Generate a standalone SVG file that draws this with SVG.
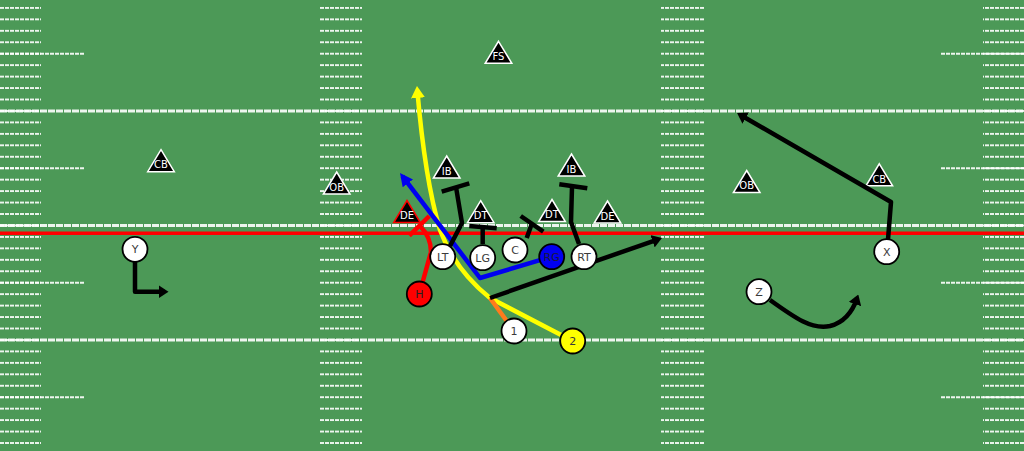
<svg xmlns="http://www.w3.org/2000/svg" width="1024" height="451" viewBox="0 0 1024 451">
<defs>
<style>
.hash{stroke:#fff;stroke-width:2;stroke-dasharray:4 1;opacity:.9;fill:none}
.yard{stroke:#fff;stroke-width:3;stroke-dasharray:7 1;opacity:.9;fill:none}
.tri{fill:#000;stroke:#fff;stroke-width:1.5}
.dt{font-family:"DejaVu Sans",sans-serif;font-size:10px;fill:#fff;text-anchor:middle}
.pc{fill:#fff;stroke:#000;stroke-width:1.8}
.ot{font-family:"DejaVu Sans",sans-serif;font-size:11px;fill:#3a3a3a;text-anchor:middle}
.r{fill:none;stroke-width:4.5;stroke-linejoin:round}
</style>
<pattern id="hp" patternUnits="userSpaceOnUse" x="0" y="6.95" width="1024" height="11.45">
<line x1="0" y1="1" x2="1024" y2="1" class="hash"/>
</pattern>
<path id="tri" d="M0,0 L13.3,22 L-13.3,22 Z"/>
<marker id="ak" viewBox="0 0 10 13" refX="6" refY="6.5" markerWidth="10" markerHeight="13" markerUnits="userSpaceOnUse" orient="auto"><path d="M0,0 L10,6.5 L0,13 Z" fill="#000"/></marker>
<marker id="ay" viewBox="0 0 12 14" refX="8" refY="7" markerWidth="12" markerHeight="14" markerUnits="userSpaceOnUse" orient="auto"><path d="M0,0 L12,7 L0,14 Z" fill="#ffff00"/></marker>
<marker id="ab" viewBox="0 0 13 13" refX="9" refY="6.5" markerWidth="13" markerHeight="13" markerUnits="userSpaceOnUse" orient="auto"><path d="M0,0 L13,6.5 L0,13 Z" fill="#0000f0"/></marker>
</defs>

<g id="field">
<rect x="0" y="0" width="1024" height="451" fill="#4c9957"/>
<rect x="0" y="0" width="41" height="451" fill="url(#hp)"/>
<rect x="320" y="0" width="42" height="451" fill="url(#hp)"/>
<rect x="661" y="0" width="43" height="451" fill="url(#hp)"/>
<rect x="983" y="0" width="41" height="451" fill="url(#hp)"/>
<path class="hash" d="M0,53.75H84M0,168.25H84M0,282.75H84M0,397.25H84M941,53.75H1024M941,168.25H1024M941,282.75H1024M941,397.25H1024"/>
<path class="yard" d="M0,111H1024M0,225.5H1024M0,340H1024"/>
<line x1="0" y1="233.3" x2="1024" y2="233.3" stroke="#ff0000" stroke-width="3.5"/>
</g>

<g id="defense">
<g id="FS"><use href="#tri" class="tri" x="498.5" y="41.3"/><text class="dt" x="498.5" y="60">FS</text></g>
<g id="CB-left"><use href="#tri" class="tri" x="161" y="149.7"/><text class="dt" x="161" y="168.4">CB</text></g>
<g id="OB-left"><use href="#tri" class="tri" x="336.7" y="172"/><text class="dt" x="336.7" y="190.7">OB</text></g>
<g id="IB-left"><use href="#tri" class="tri" x="446.7" y="156"/><text class="dt" x="446.7" y="174.7">IB</text></g>
<g id="DE-left"><use href="#tri" class="tri" x="407" y="200.5" style="stroke:#ff0000"/><text class="dt" x="407" y="219.2">DE</text></g>
<g id="DT-left"><use href="#tri" class="tri" x="480.7" y="200.7"/><text class="dt" x="480.7" y="219.4">DT</text></g>
<g id="IB-right"><use href="#tri" class="tri" x="571.5" y="154"/><text class="dt" x="571.5" y="172.7">IB</text></g>
<g id="DT-right"><use href="#tri" class="tri" x="552" y="199.5"/><text class="dt" x="552" y="218.2">DT</text></g>
<g id="DE-right"><use href="#tri" class="tri" x="607.5" y="201"/><text class="dt" x="607.5" y="219.7">DE</text></g>
<g id="OB-right"><use href="#tri" class="tri" x="746.7" y="170.5"/><text class="dt" x="746.7" y="189.2">OB</text></g>
<g id="CB-right"><use href="#tri" class="tri" x="879.3" y="163.8"/><text class="dt" x="879.3" y="182.5">CB</text></g>
</g>

<g id="connectors">
<path class="r" stroke="#000" d="M135,250 L135,291.7 L164.5,291.7" marker-end="url(#ak)"/>
<path class="r" stroke="#000" d="M887,252 L891,202 L740.5,115" marker-end="url(#ak)"/>
<path class="r" stroke="#000" d="M770,300 C795,318 812,330 830,326 C845,322 853,310 857,298.4" marker-end="url(#ak)"/>
<path class="r" stroke="#ffff00" d="M572.7,341 L490,298 Q455,270 440,230 Q425,180 417.3,90" marker-end="url(#ay)"/>
<path class="r" stroke="#ff7b1c" d="M514,331 L490,298"/>
<path class="r" stroke="#000" d="M490,298 L658.2,239.3" marker-end="url(#ak)"/>
<path class="r" stroke="#0000f0" d="M551.7,256.7 L480,278 L402.4,176.2" marker-end="url(#ab)"/>
<path class="r" stroke="#ff0000" d="M419.3,294 L431,252 Q431,237 420,226"/>
<path class="r" stroke="#ff0000" d="M409.3,235.7 L429.3,216"/>
<path class="r" stroke="#000" d="M450,246 L462,223 L456,187"/>
<path class="r" stroke="#000" d="M441.7,191.7 L469.3,183.3"/>
<path class="r" stroke="#000" d="M482.7,244 L482.7,227"/>
<path class="r" stroke="#000" d="M469.3,226 L496.7,228.3"/>
<path class="r" stroke="#000" d="M526.7,238 L531.7,224"/>
<path class="r" stroke="#000" d="M520.7,216 L543.3,231.7"/>
<path class="r" stroke="#000" d="M579,244 L571,222 L572,187"/>
<path class="r" stroke="#000" d="M559.3,184.3 L587.3,188.3"/>
</g>

<g id="offense">
<g id="Y"><circle class="pc" cx="135" cy="249.3" r="12.5"/><text class="ot" x="135" y="253.3">Y</text></g>
<g id="LT"><circle class="pc" cx="442.7" cy="256.7" r="12.5"/><text class="ot" x="442.7" y="260.7">LT</text></g>
<g id="LG"><circle class="pc" cx="482.7" cy="257.7" r="12.5"/><text class="ot" x="482.7" y="261.7">LG</text></g>
<g id="C"><circle class="pc" cx="515" cy="250" r="12.5"/><text class="ot" x="515" y="254">C</text></g>
<g id="RG"><circle class="pc" cx="551.7" cy="256.7" r="12.5" style="fill:#0000f0"/><text class="ot" x="551.7" y="260.7" style="fill:#1a1a3a">RG</text></g>
<g id="RT"><circle class="pc" cx="584" cy="256.7" r="12.5"/><text class="ot" x="584" y="260.7">RT</text></g>
<g id="H"><circle class="pc" cx="419.3" cy="294" r="12.5" style="fill:#ff0000"/><text class="ot" x="419.3" y="298" style="fill:#222">H</text></g>
<g id="P1"><circle class="pc" cx="514" cy="331" r="12.5"/><text class="ot" x="514" y="335">1</text></g>
<g id="P2"><circle class="pc" cx="572.7" cy="341" r="12.5" style="fill:#ffff00"/><text class="ot" x="572.7" y="345">2</text></g>
<g id="X"><circle class="pc" cx="886.7" cy="251.7" r="12.5"/><text class="ot" x="886.7" y="255.7">X</text></g>
<g id="Z"><circle class="pc" cx="759" cy="291.7" r="12.5"/><text class="ot" x="759" y="295.7">Z</text></g>
</g>
</svg>
